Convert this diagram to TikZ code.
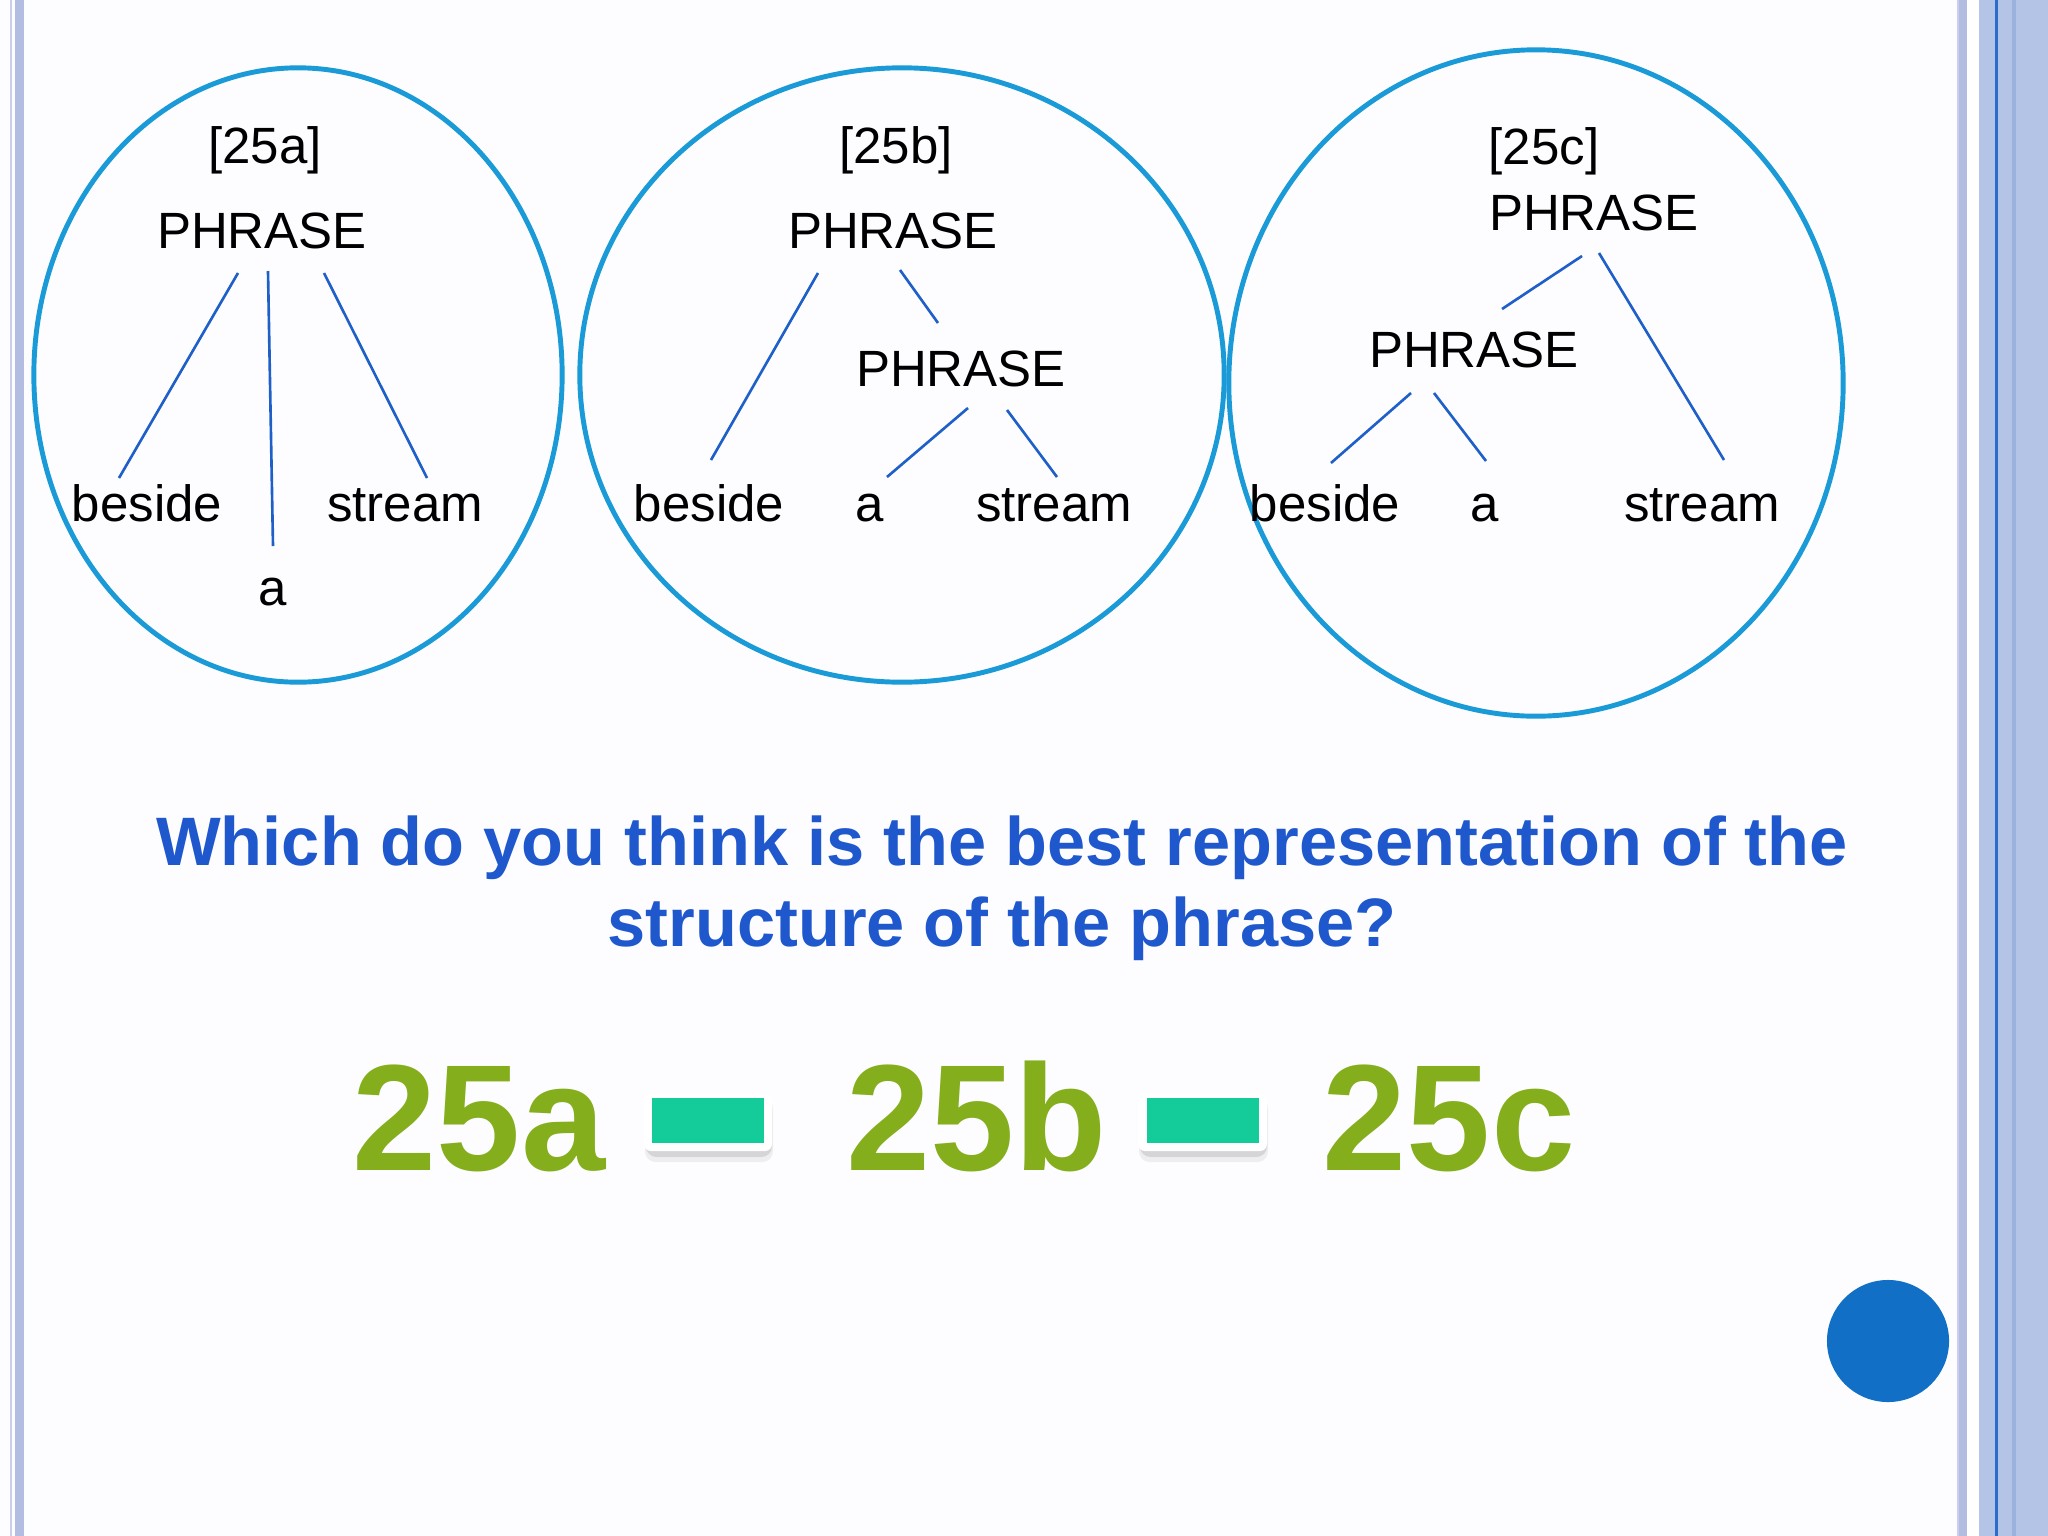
\documentclass[tikz,border=0pt]{standalone}
\usepackage{fontspec}
\setmainfont{Liberation Sans}
\definecolor{bgc}{HTML}{FDFDFF}
\definecolor{lav}{HTML}{B3BDE2}
\definecolor{lavlight}{HTML}{C9CFEA}
\definecolor{lavblue}{HTML}{B4C4E6}
\definecolor{lavdark}{HTML}{9BB2DF}
\definecolor{darkline}{HTML}{2A6CCC}
\definecolor{ovalblue}{HTML}{1A9AD6}
\definecolor{linkblue}{HTML}{1F5FC8}
\definecolor{titleblue}{HTML}{1E58CC}
\definecolor{greentxt}{HTML}{84AE1C}
\definecolor{tealbox}{HTML}{14CC9A}
\definecolor{dotblue}{HTML}{1170C6}
\begin{document}
\begin{tikzpicture}[x=0.01cm,y=-0.01cm,
  lbl/.style={font=\fontsize{14.5pt}{16pt}\selectfont, inner sep=0pt, anchor=base, text=black},
  edge/.style={draw=linkblue, line width=0.75pt},
  oval/.style={draw=ovalblue, line width=1.4pt},
  title/.style={font=\fontsize{19.5pt}{23pt}\selectfont\bfseries, text=titleblue, inner sep=0pt, anchor=base},
  big/.style={font=\fontsize{43pt}{50pt}\selectfont\bfseries, text=greentxt, inner sep=0pt, anchor=base}]
\useasboundingbox (0,0) rectangle (2048,1536);
\fill[bgc] (0,0) rectangle (2048,1536);
% left border
\fill[lavlight] (10,0) rectangle (12,1536);
\fill[lav] (15,0) rectangle (24,1536);
% right border
\fill[lavlight] (1957,0) rectangle (1959,1536);
\fill[lav] (1959,0) rectangle (1967,1536);
\fill[white] (1967,0) rectangle (1979,1536);
\fill[lavblue] (1979,0) rectangle (2048,1536);
\fill[darkline] (1995,0) rectangle (1998,1536);
\fill[lavdark] (2012,0) rectangle (2016,1536);
% ovals
\draw[oval] (298,375) ellipse [x radius=2.64cm, y radius=3.07cm];
\draw[oval] (902,375) ellipse [x radius=3.22cm, y radius=3.07cm];
\draw[oval] (1536,383) ellipse [x radius=3.07cm, y radius=3.33cm];
% tree a
\node[lbl] (la) at (265,163) {[25a]};
\node[lbl] (pa) at (262,248) {PHRASE};
\node[lbl] (ba) at (147,521) {beside};
\node[lbl] (sa) at (405,521) {stream};
\node[lbl] (aa) at (273,605) {a};
\coordinate (pa1) at (238,273); \coordinate (ba1) at (119,478);
\coordinate (pa2) at (268,271); \coordinate (aa1) at (273,546);
\coordinate (pa3) at (324,273); \coordinate (sa1) at (427,478);
\draw[edge] (pa1) -- (ba1);
\draw[edge] (pa2) -- (aa1);
\draw[edge] (pa3) -- (sa1);
% tree b
\node[lbl] (lb) at (896,163) {[25b]};
\node[lbl] (pb) at (893,248) {PHRASE};
\node[lbl] (qb) at (961,386) {PHRASE};
\node[lbl] (bb) at (709,521) {beside};
\node[lbl] (ab) at (870,521) {a};
\node[lbl] (sb) at (1054,521) {stream};
\coordinate (pb1) at (818,273); \coordinate (bb1) at (711,460);
\coordinate (pb2) at (900,270); \coordinate (qb0) at (938,323);
\coordinate (qb1) at (968,408); \coordinate (ab1) at (887,477);
\coordinate (qb2) at (1007,410); \coordinate (sb1) at (1057,477);
\draw[edge] (pb1) -- (bb1);
\draw[edge] (pb2) -- (qb0);
\draw[edge] (qb1) -- (ab1);
\draw[edge] (qb2) -- (sb1);
% tree c
\node[lbl] (lc) at (1544,164) {[25c]};
\node[lbl] (pc) at (1594,230) {PHRASE};
\node[lbl] (qc) at (1474,367) {PHRASE};
\node[lbl] (bc) at (1325,521) {beside};
\node[lbl] (ac) at (1485,521) {a};
\node[lbl] (sc) at (1702,521) {stream};
\coordinate (pc1) at (1582,256); \coordinate (qc0) at (1502,309);
\coordinate (pc2) at (1599,253); \coordinate (sc1) at (1724,460);
\coordinate (qc1) at (1411,393); \coordinate (bc1) at (1331,463);
\coordinate (qc2) at (1434,393); \coordinate (ac1) at (1486,461);
\draw[edge] (pc1) -- (qc0);
\draw[edge] (pc2) -- (sc1);
\draw[edge] (qc1) -- (bc1);
\draw[edge] (qc2) -- (ac1);
% question
\node[title] (q1) at (1002,865) {Which do you think is the best representation of the};
\node[title] (q2) at (1002,946) {structure of the phrase?};
% answers
\node[big] (g1) at (479,1170) {25a};
\node[big] (g2) at (977,1170) {25b};
\node[big] (g3) at (1449,1170) {25c};
% dashes
\foreach \xa/\xb in {644/772, 1138/1267}{
  \fill[black, opacity=0.06, rounded corners=3pt] (\xa+1,1098) rectangle (\xb+1,1162);
  \fill[black, opacity=0.10, rounded corners=3pt] (\xa+2,1100) rectangle (\xb,1157);
  \fill[white, rounded corners=2pt] (\xa,1094) rectangle (\xb,1151);
}
\fill[tealbox] (652,1098) rectangle (764,1143);
\fill[tealbox] (1147,1098) rectangle (1259,1143);
% dot
\fill[dotblue] (1888,1341) circle [radius=0.61cm];
\end{tikzpicture}
\end{document}
